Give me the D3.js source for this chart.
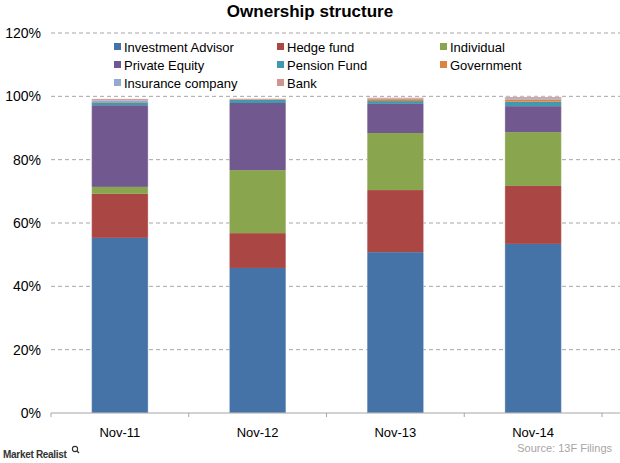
<!DOCTYPE html>
<html>
<head>
<meta charset="utf-8">
<script src="https://cdn.jsdelivr.net/npm/d3@7"></script>
<style>
  body { margin: 0; background: #fff; }
  svg { font-family: Arial, "Liberation Sans", sans-serif; }
</style>
</head>
<body>
<div id="chart"></div>
<script>
// Data (percent of shares held)
var periods = ['Nov-11', 'Nov-12', 'Nov-13', 'Nov-14'];
var holderTypes = ['Investment Advisor', 'Hedge fund', 'Individual', 'Private Equity',
                   'Pension Fund', 'Government', 'Insurance company', 'Bank'];
var investmentAdvisor = [55.3, 45.8, 50.8, 53.4];
var hedgeFund         = [13.9, 11.0, 19.6, 18.3];
var individual        = [2.2, 19.9, 18.0, 17.0];
var privateEquity     = [25.8, 21.2, 9.2, 8.2];
var pensionFund       = [0.9, 1.0, 0.9, 1.4];
var government        = [0.1, 0.2, 0.6, 0.7];
var insuranceCompany  = [0.5, 0.1, 0.2, 0.4];
var bank              = [0.5, 0.1, 0.3, 0.4];
var yTicks = [0, 20, 40, 60, 80, 100, 120];

var colors = ['#4572A7', '#AA4643', '#89A54E', '#71588F', '#4198AF', '#DB843D', '#93A9CF', '#D19392'];

var W = 620, H = 463;
var margin = { left: 51, right: 18, top: 33, bottom: 50 };

var svg = d3.select('#chart').append('svg')
  .attr('width', W).attr('height', H);

// Build table for stacking
var series = [investmentAdvisor, hedgeFund, individual, privateEquity,
              pensionFund, government, insuranceCompany, bank];
var table = periods.map(function(p, i) {
  var row = { period: p };
  holderTypes.forEach(function(h, k) { row[h] = series[k][i]; });
  return row;
});
var stacked = d3.stack().keys(holderTypes)(table);

var x = d3.scaleBand()
  .domain(periods)
  .range([margin.left, W - margin.right])
  .paddingInner(0.59).paddingOuter(0.295);

var y = d3.scaleLinear()
  .domain([0, 120])
  .range([413, 33]);

// Title
svg.append('text')
  .attr('x', W / 2).attr('y', 17)
  .attr('text-anchor', 'middle')
  .attr('font-size', 17).attr('font-weight', 700)
  .attr('fill', '#000')
  .text('Ownership structure');

// Gridlines (dashed)
svg.append('g')
  .selectAll('line')
  .data(yTicks.filter(function(t) { return t > 0; }))
  .enter().append('line')
  .attr('x1', margin.left).attr('x2', W - margin.right + 18)
  .attr('y1', function(d) { return y(d); })
  .attr('y2', function(d) { return y(d); })
  .attr('stroke', '#a6a6a6')
  .attr('stroke-width', 1)
  .attr('stroke-dasharray', '4,3');

// Y axis labels
svg.append('g')
  .selectAll('text')
  .data(yTicks)
  .enter().append('text')
  .attr('x', 41)
  .attr('y', function(d) { return y(d); })
  .attr('dy', '0.35em')
  .attr('text-anchor', 'end')
  .attr('font-size', 14)
  .attr('fill', '#000')
  .text(function(d) { return d + '%'; });

// Bars
svg.append('g')
  .selectAll('g')
  .data(stacked)
  .enter().append('g')
  .attr('fill', function(d, i) { return colors[i]; })
  .selectAll('rect')
  .data(function(d) { return d; })
  .enter().append('rect')
  .attr('x', function(d) { return x(d.data.period); })
  .attr('width', x.bandwidth())
  .attr('y', function(d) { return y(d[1]); })
  .attr('height', function(d) { return Math.max(0, y(d[0]) - y(d[1])); });

// Faint bar outline
svg.append('g')
  .selectAll('rect')
  .data(table)
  .enter().append('rect')
  .attr('x', function(d) { return x(d.period); })
  .attr('width', x.bandwidth())
  .attr('y', function(d) { return y(d3.sum(holderTypes, function(h) { return d[h]; })); })
  .attr('height', function(d) { return y(0) - y(d3.sum(holderTypes, function(h) { return d[h]; })); })
  .attr('fill', 'none')
  .attr('stroke', 'rgba(255,255,255,0.35)')
  .attr('stroke-width', 1);

// X axis
var xAxis = svg.append('g').attr('transform', 'translate(0,' + y(0) + ')');
xAxis.append('line')
  .attr('x1', margin.left).attr('x2', W)
  .attr('stroke', '#a6a6a6').attr('stroke-width', 1.2);
var step = x.step();
var bounds = d3.range(periods.length + 1).map(function(i) { return margin.left + i * step; });
xAxis.selectAll('line.tick')
  .data(bounds)
  .enter().append('line')
  .attr('class', 'tick')
  .attr('x1', function(d) { return d; }).attr('x2', function(d) { return d; })
  .attr('y1', 0).attr('y2', 4)
  .attr('stroke', '#a6a6a6');
xAxis.selectAll('text')
  .data(periods)
  .enter().append('text')
  .attr('x', function(d) { return x(d) + x.bandwidth() / 2; })
  .attr('y', 24)
  .attr('text-anchor', 'middle')
  .attr('font-size', 13)
  .attr('fill', '#000')
  .text(function(d) { return d; });

// Legend
var legendCols = [114, 277, 440];
var legendRows = [47, 65, 83];
var legend = svg.append('g');
holderTypes.forEach(function(h, i) {
  var lx = legendCols[i % 3], ly = legendRows[Math.floor(i / 3)];
  legend.append('rect')
    .attr('x', lx).attr('y', ly - 4)
    .attr('width', 7).attr('height', 7)
    .attr('fill', colors[i]);
  legend.append('text')
    .attr('x', lx + 10).attr('y', ly)
    .attr('dy', '0.35em')
    .attr('font-size', 13)
    .attr('fill', '#000')
    .text(h);
});

// Source and branding
svg.append('text')
  .attr('x', 612).attr('y', 452)
  .attr('text-anchor', 'end')
  .attr('font-size', 11)
  .attr('fill', '#a6a6a6')
  .text('Source: 13F Filings');

var brand = svg.append('g').attr('transform', 'translate(3,458)');
brand.append('text')
  .attr('x', 0).attr('y', 0)
  .attr('font-size', 10)
  .attr('font-weight', 700)
  .attr('letter-spacing', -0.3)
  .attr('fill', '#333')
  .text('Market Realist');
brand.append('circle')
  .attr('cx', 72).attr('cy', -9).attr('r', 2.6)
  .attr('fill', 'none').attr('stroke', '#333').attr('stroke-width', 1.1);
brand.append('line')
  .attr('x1', 74).attr('y1', -7).attr('x2', 76).attr('y2', -5)
  .attr('stroke', '#333').attr('stroke-width', 1.3);
</script>
</body>
</html>
